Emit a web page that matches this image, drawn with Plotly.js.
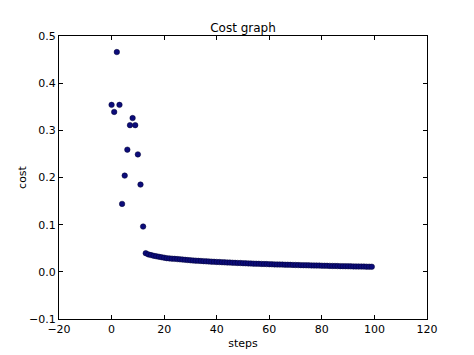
<!DOCTYPE html>
<html>
<head>
<meta charset="utf-8">
<script src="https://cdn.plot.ly/plotly-3.0.1.min.js"></script>
<style>html,body{margin:0;padding:0;background:#fff;}#chart{width:474px;height:355px;}</style>
</head>
<body>
<div id="chart"></div>
<script>
var earlySteps = [0,1,2,3,4,5,6,7,8,9,10,11,12];
var earlyCost = [0.354,0.339,0.466,0.354,0.144,0.204,0.259,0.311,0.326,0.311,0.249,0.185,0.096];
var lateCost = [
0.0395,0.037,0.0355,0.034,0.033,0.032,0.031,0.030,0.029,0.0285,
0.028,0.0275,0.027,0.0265,0.026,0.0255,0.025,0.0245,0.024,0.0237,
0.0233,0.023,0.0226,0.0222,0.022,0.0216,0.0213,0.021,0.0207,0.0204,
0.0201,0.0198,0.0196,0.0193,0.019,0.0188,0.0186,0.0183,0.0181,0.0179,
0.0176,0.0174,0.0172,0.017,0.0168,0.0166,0.0164,0.0162,0.016,0.0158,
0.0156,0.0155,0.0153,0.0151,0.015,0.0148,0.0146,0.0145,0.0143,0.0142,
0.014,0.0139,0.0137,0.0136,0.0134,0.0133,0.0132,0.013,0.0129,0.0128,
0.0126,0.0125,0.0124,0.0122,0.0121,0.012,0.0119,0.0118,0.0116,0.0115,
0.0114,0.0113,0.0112,0.0111,0.011,0.0109,0.0108];
var lateSteps = [];
for (var i = 0; i < lateCost.length; i++) lateSteps.push(13 + i);
var steps = earlySteps.concat(lateSteps);
var cost = earlyCost.concat(lateCost);
var xTicks = [-20,0,20,40,60,80,100,120];
var yTicks = [-0.1,0.0,0.1,0.2,0.3,0.4,0.5];

var font = {family: 'DejaVu Sans, sans-serif', size: 11, color: '#000'};
var axisCommon = {
  showline: true, linecolor: '#000', linewidth: 1, mirror: 'allticks',
  ticks: 'inside', ticklen: 4, tickcolor: '#000', tickwidth: 1,
  showgrid: false, zeroline: false, tickfont: font
};
Plotly.newPlot('chart', [{
  x: steps, y: cost, type: 'scatter', mode: 'markers',
  marker: {color: '#0c0c7a', size: 5.5, line: {color: '#000033', width: 0.5}},
  hoverinfo: 'skip'
}], {
  width: 474, height: 355,
  margin: {l: 59, r: 47, t: 36, b: 36},
  paper_bgcolor: '#fff', plot_bgcolor: '#fff',
  showlegend: false,
  font: font,
  title: {text: 'Cost graph', font: {family: 'DejaVu Sans, sans-serif', size: 12, color: '#000'},
          x: 0.5, xref: 'paper', y: 1, yref: 'paper', yanchor: 'bottom', pad: {b: 4}},
  xaxis: Object.assign({}, axisCommon, {
    range: [-20, 120], tickvals: xTicks, ticktext: xTicks.map(function(v){return v < 0 ? '\u2212' + Math.abs(v) : String(v);}),
    title: {text: 'steps', font: font, standoff: 4}
  }),
  yaxis: Object.assign({}, axisCommon, {
    range: [-0.1, 0.5], tickvals: yTicks, ticktext: yTicks.map(function(v){return v < 0 ? '\u2212' + Math.abs(v).toFixed(1) : v.toFixed(1);}),
    title: {text: 'cost', font: font, standoff: 0}
  })
}, {staticPlot: true});
</script>
</body>
</html>
